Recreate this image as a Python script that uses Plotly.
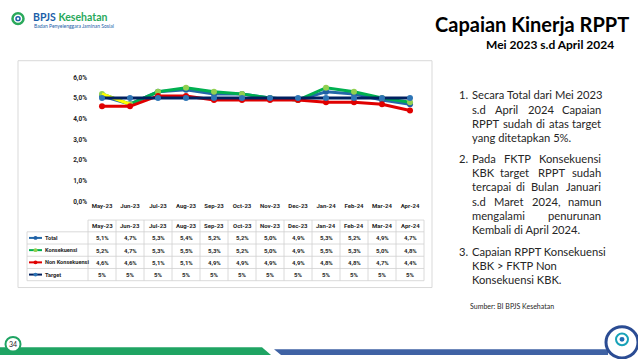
import plotly.graph_objects as go

W, H = 638, 359

months = ["May-23", "Jun-23", "Jul-23", "Aug-23", "Sep-23", "Oct-23",
          "Nov-23", "Dec-23", "Jan-24", "Feb-24", "Mar-24", "Apr-24"]
total = [5.1, 4.7, 5.3, 5.4, 5.2, 5.2, 5.0, 4.9, 5.3, 5.2, 4.9, 4.7]
konsekuensi = [5.2, 4.7, 5.3, 5.5, 5.3, 5.2, 5.0, 4.9, 5.5, 5.3, 5.0, 4.8]
non_konsekuensi = [4.6, 4.6, 5.1, 5.1, 4.9, 4.9, 4.9, 4.9, 4.8, 4.8, 4.7, 4.4]
target = [5, 5, 5, 5, 5, 5, 5, 5, 5, 5, 5, 5]
series_names = ["Total", "Konsekuensi", "Non Konsekuensi", "Target"]
y_ticks = [0, 1, 2, 3, 4, 5, 6]

CF = "Roboto, sans-serif"
TF = "Lato, Open Sans, sans-serif"
TXT = "#262626"

styles = {
    "Total": dict(line="#2468A8", marker="#1F5FA6"),
    "Konsekuensi": dict(line="#00B050", marker="#92D050"),
    "Non Konsekuensi": dict(line="#E00000", marker="#E00000"),
    "Target": dict(line="#002060", marker="#2E75B6"),
}
data = {"Total": total, "Konsekuensi": konsekuensi,
        "Non Konsekuensi": non_konsekuensi, "Target": target}


def px(x):
    return x / W


def py(y):
    return 1 - y / H


XD = [88 / W, 424 / W]
YD = [py(202), py(75)]

fig = go.Figure()
for name in series_names:
    st = styles[name]
    fig.add_trace(go.Scatter(
        x=months, y=[v / 100 for v in data[name]], mode="lines+markers",
        name=name, line=dict(color=st["line"], width=3),
        marker=dict(size=6, color=st["marker"], line=dict(width=0)),
        showlegend=False, hoverinfo="skip"))
    if name == "Konsekuensi":
        fig.add_trace(go.Scatter(
            x=months[:2], y=[v / 100 for v in konsekuensi[:2]], mode="lines",
            line=dict(color="#FFFF00", width=3), showlegend=False,
            hoverinfo="skip"))

shapes = []
ann = []


def A(**kw):
    kw.setdefault("yanchor", "middle")
    kw.setdefault("xanchor", "center")
    kw.setdefault("showarrow", False)
    kw.setdefault("xref", "paper")
    kw.setdefault("yref", "paper")
    ann.append(kw)


# chart frame
shapes.append(dict(type="rect", xref="paper", yref="paper", x0=px(18), x1=px(432),
                   y0=py(290), y1=py(58), line=dict(color="#D9D9D9", width=1),
                   fillcolor="rgba(0,0,0,0)", layer="below"))

# table
col_l = 88
col_r = 424
lab_l = 27
row_b = [221, 233, 245.5, 258, 270.5, 283]
grid = "#D0D0D0"


def xcol(i):
    return XD[0] + (i + 0.5) / len(months) * (XD[1] - XD[0])


for j, yb in enumerate(row_b):
    x0 = col_l if j == 0 else lab_l
    shapes.append(dict(type="line", xref="paper", yref="paper", x0=px(x0), x1=px(col_r),
                       y0=py(yb), y1=py(yb), line=dict(color=grid, width=0.8)))
for i in range(len(months) + 1):
    xp = xcol(i - 0.5)
    shapes.append(dict(type="line", xref="paper", yref="paper", x0=xp, x1=xp,
                       y0=py(row_b[0]), y1=py(row_b[-1]), line=dict(color=grid, width=0.8)))
shapes.append(dict(type="line", xref="paper", yref="paper", x0=px(lab_l), x1=px(lab_l),
                   y0=py(row_b[1]), y1=py(row_b[-1]), line=dict(color=grid, width=0.8)))

for i, m in enumerate(months):
    A(x=m, xref="x", y=py((row_b[0] + row_b[1]) / 2), text="<b>%s</b>" % m,
      font=dict(family=CF, size=6, color=TXT))

for r, name in enumerate(series_names):
    yc = (row_b[r + 1] + row_b[r + 2]) / 2
    st = styles[name]
    for i, m in enumerate(months):
        v = data[name][i]
        t = "5%" if name == "Target" else ("%.1f%%" % v).replace(".", ",")
        A(x=m, xref="x", y=py(yc), text="<b>%s</b>" % t,
          font=dict(family=CF, size=6, color=TXT))
    shapes.append(dict(type="line", xref="paper", yref="paper", x0=px(29), x1=px(42),
                       y0=py(yc), y1=py(yc), line=dict(color=st["line"], width=2)))
    shapes.append(dict(type="circle", xref="paper", yref="paper", x0=px(33.5), x1=px(37.5),
                       y0=py(yc + 2), y1=py(yc - 2), fillcolor=st["marker"],
                       line=dict(width=0)))
    A(x=px(42.5), y=py(yc), text="<b>%s</b>" % name, xanchor="left",
      font=dict(family=CF, size=5.6, color=TXT))

# header texts
A(x=px(631), y=py(20), xanchor="right", text="<b>Capaian Kinerja RPPT</b>",
  font=dict(family=TF, size=20, color="#000000"))
A(x=px(616), y=py(41), xanchor="right", text="<b>Mei 2023 s.d April 2024</b>",
  font=dict(family=TF, size=12, color="#000000"))

# logo
shapes.append(dict(type="circle", xref="paper", yref="paper", x0=px(12.5), x1=px(23.5),
                   y0=py(20.5), y1=py(9.5), line=dict(color="#2AA95B", width=2.5),
                   fillcolor="#FFFFFF"))
shapes.append(dict(type="circle", xref="paper", yref="paper", x0=px(16), x1=px(20),
                   y0=py(17), y1=py(13), line=dict(color="#1B5EA8", width=1.5),
                   fillcolor="#FFFFFF"))
A(x=px(31), y=py(13), xanchor="left",
  text="<b><span style='color:#1B5EA8'>BPJS</span> "
       "<span style='color:#2AA95B'>Kesehatan</span></b>",
  font=dict(family=TF, size=10.5))
A(x=px(31.5), y=py(22), xanchor="left", text="Badan Penyelenggara Jaminan Sosial",
  font=dict(family=TF, size=5, color="#1B5EA8"))

# right text
FS = 11.2


def cw(ch):
    if ch in "ilj.,:;'!|I":
        return 0.25
    if ch in "ftr":
        return 0.34
    if ch in "mwMW":
        return 0.82
    if ch.isupper():
        return 0.63
    if ch.isdigit():
        return 0.55
    if ch == "%":
        return 0.8
    return 0.51


def wwidth(w):
    return sum(cw(c) for c in w) * FS * 1.03


L, R = 470, 603


def line_text(text, y, justify):
    words = text.split(" ")
    if not justify or len(words) == 1:
        A(x=px(L), y=py(y), xanchor="left", text=text,
          font=dict(family=TF, size=FS, color=TXT))
        return
    ws = [wwidth(w) for w in words]
    gap = ((R - L) - sum(ws)) / (len(words) - 1)
    x = L
    for k, w in enumerate(words):
        if k == 0:
            xa, xx = "left", L
        elif k == len(words) - 1:
            xa, xx = "right", R
        else:
            xa, xx = "center", x + ws[k] / 2
        A(x=px(xx), y=py(y), xanchor=xa, text=w, font=dict(family=TF, size=FS, color=TXT))
        x += ws[k] + gap


items = [
    ("1.", 93, [("Secara Total dari Mei 2023", False), ("s.d April 2024 Capaian", True),
                ("RPPT sudah di atas target", True), ("yang ditetapkan 5%.", False)]),
    ("2.", 158, [("Pada FKTP Konsekuensi", True), ("KBK target RPPT sudah", True),
                 ("tercapai di Bulan Januari", True), ("s.d Maret 2024, namun", True),
                 ("mengalami penurunan", True), ("Kembali di April 2024.", False)]),
    ("3.", 253, [("Capaian RPPT Konsekuensi", False), ("KBK &gt; FKTP Non", False),
                 ("Konsekuensi KBK.", False)]),
]
for num, y0, lines in items:
    A(x=px(457), y=py(y0), xanchor="left", text=num,
      font=dict(family=TF, size=FS, color=TXT))
    for k, (t, j) in enumerate(lines):
        line_text(t, y0 + k * 14.5, j)

A(x=px(468), y=py(309), xanchor="left", text="Sumber: BI BPJS Kesehatan",
  font=dict(family=TF, size=7, color=TXT))

# footer
shapes.append(dict(type="path", xref="paper", yref="paper",
                   path="M 0 %f L %f %f L %f %f L 0 %f Z" % (py(351), px(262), py(351),
                                                            px(271), py(359), py(359)),
                   fillcolor="#1FA463", line=dict(width=0)))
shapes.append(dict(type="path", xref="paper", yref="paper",
                   path="M %f %f L %f %f L %f %f L %f %f Z" % (px(274), py(353), px(608), py(353),
                                                               px(608), py(359), px(281), py(359)),
                   fillcolor="#3F62A4", line=dict(width=0)))
shapes.append(dict(type="circle", xref="paper", yref="paper", x0=px(5.5), x1=px(20.5),
                   y0=py(355.5), y1=py(340.5), fillcolor="#FFFFFF",
                   line=dict(color="#1FA463", width=2)))
A(x=px(13), y=py(348), text="34", font=dict(family=TF, size=7, color=TXT))
shapes.append(dict(type="circle", xref="paper", yref="paper", x0=px(606), x1=px(638),
                   y0=py(362), y1=py(330), fillcolor="#FFFFFF",
                   line=dict(color="#2B4C93", width=3)))
shapes.append(dict(type="circle", xref="paper", yref="paper", x0=px(616), x1=px(628),
                   y0=py(349), y1=py(337), fillcolor="#FFFFFF",
                   line=dict(color="#17A2B8", width=2)))
shapes.append(dict(type="circle", xref="paper", yref="paper", x0=px(619.5), x1=px(624.5),
                   y0=py(345.5), y1=py(340.5), fillcolor="#1F6FB5",
                   line=dict(width=0)))

fig.update_layout(
    width=W, height=H, margin=dict(l=0, r=0, t=0, b=0),
    paper_bgcolor="#FFFFFF", plot_bgcolor="rgba(0,0,0,0)",
    separators=",.", shapes=shapes, annotations=ann,
    xaxis=dict(domain=XD, range=[-0.5, 11.5], type="category", showgrid=False,
               zeroline=False, showline=False, ticks="",
               tickfont=dict(family=CF, size=6, color=TXT),
               tickvals=months, ticktext=["<b>%s</b>" % m for m in months]),
    yaxis=dict(domain=YD, range=[0, 0.06], showgrid=False, zeroline=False, showline=False,
               tickvals=[t / 100 for t in y_ticks],
               ticktext=["<b>%s</b>" % ("%.1f%%" % t).replace(".", ",") for t in y_ticks],
               tickfont=dict(family=CF, size=6.5, color=TXT), ticks=""),
)
fig.write_html("out.html", config={"displayModeBar": False},
               post_script="document.body.style.margin='0';document.body.style.overflow='hidden';")
